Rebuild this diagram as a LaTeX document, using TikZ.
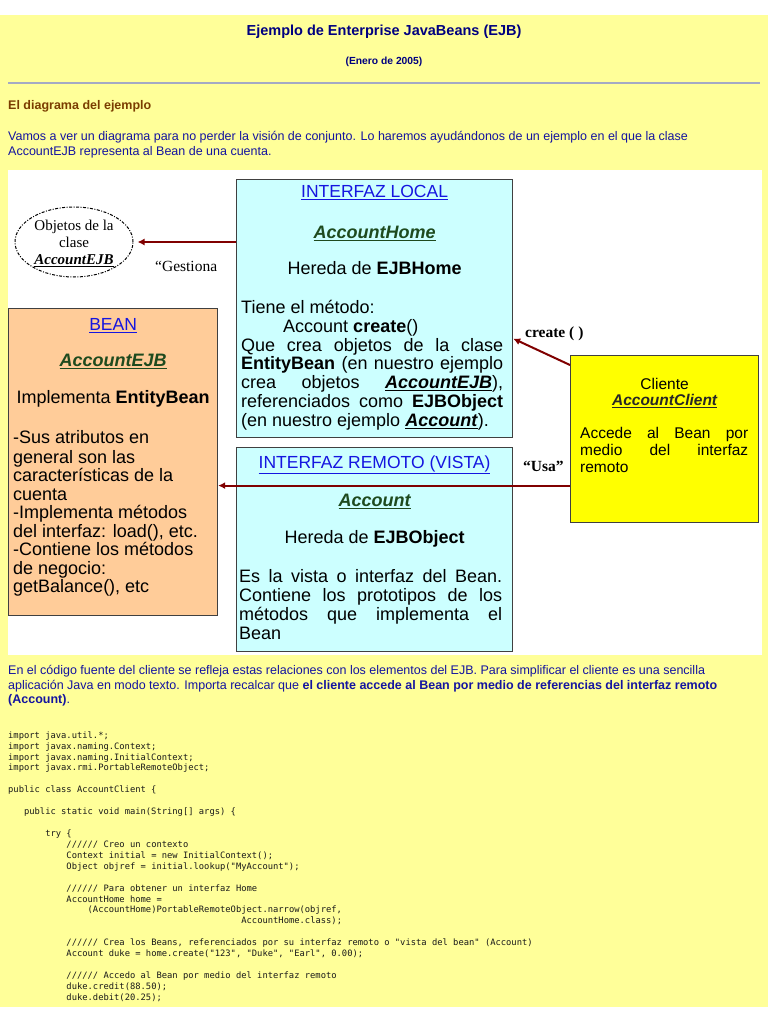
\documentclass[tikz,border=0pt]{standalone}
\usepackage{fontspec}
\setmainfont{Liberation Sans}
\newfontfamily\tnr{Liberation Serif}
\setmonofont{DejaVu Sans Mono}
\usetikzlibrary{arrows.meta, positioning, shapes.geometric}
\definecolor{pagey}{HTML}{FFFF99}
\definecolor{navyt}{HTML}{000080}
\definecolor{parablue}{HTML}{1414A0}
\definecolor{headbrown}{HTML}{7A3D00}
\definecolor{rulec}{HTML}{A4AAC4}
\definecolor{localcyan}{HTML}{CCFFFF}
\definecolor{beanorange}{HTML}{FFCC99}
\definecolor{cliyellow}{HTML}{FFFF00}
\definecolor{boxgray}{HTML}{404040}
\definecolor{arrowred}{HTML}{800000}
\definecolor{linkblue}{HTML}{1515E0}
\definecolor{namegreen}{HTML}{1E4A1E}
\tikzset{box/.style={rectangle,draw=boxgray,line width=1.2pt,inner sep=0pt,anchor=north west},txt/.style={inner sep=0pt,anchor=base},btitle/.style={txt,text=linkblue,font=\fontsize{17.5}{19}\selectfont},bname/.style={txt,text=namegreen,font=\fontsize{18}{19}\selectfont\bfseries\itshape},bplain/.style={txt,font=\fontsize{18}{19}\selectfont},bbody/.style={inner sep=0pt,anchor=north west,font=\fontsize{18}{18.8}\selectfont},lbl/.style={txt,anchor=base west,font=\tnr\fontsize{15.5}{17}\selectfont},ptext/.style={inner sep=0pt,anchor=north west,text=parablue,align=left,font=\fontsize{12.5}{14.5}\selectfont},line/.style={draw=arrowred,line width=2pt,-{Latex[length=7pt,width=7pt]}}}

\begin{document}
\begin{tikzpicture}[x=1pt,y=-1pt]
\useasboundingbox (0,0) rectangle (768,1024);
\fill[pagey] (0,15) rectangle (768,1007);
\fill[white] (8,170) rectangle (762,655);
\draw[rulec,line width=1.5pt] (8,83) -- (760,83);

\node[txt,text=navyt,font=\fontsize{14.5}{16}\selectfont\bfseries] (title) at (384,36) {Ejemplo de Enterprise JavaBeans (EJB)};
\node[txt,text=navyt,font=\fontsize{10.3}{12}\selectfont\bfseries] (date) at (384,64.6) {(Enero de 2005)};
\node[txt,anchor=base west,text=headbrown,font=\fontsize{12.5}{14}\selectfont\bfseries] (head) at (8,109.4) {El diagrama del ejemplo};
\node[ptext] (intro) at (8,130.25) {\strut Vamos a ver un diagrama para no perder la visión de conjunto. Lo haremos ayudándonos de un ejemplo en el que la clase\\AccountEJB representa al Bean de una cuenta.};

\node[box,fill=localcyan,minimum width=276pt,minimum height=258pt] (loc) at (236,179) {};
\node[box,fill=localcyan,minimum width=276pt,minimum height=204pt] (rem) at (236,447) {};
\node[box,fill=beanorange,minimum width=209pt,minimum height=307pt] (bean) at (8,308) {};
\node[box,fill=cliyellow,minimum width=188pt,minimum height=167pt] (cli) at (570,355) {};
\node[ellipse,draw,line width=1pt,dash pattern=on 3pt off 1.5pt on 1pt off 1.5pt,minimum width=118pt,minimum height=70pt,inner sep=0pt,text depth=0pt,align=center,font=\tnr\fontsize{15}{17}\selectfont] (objs) at (74,242) {Objetos de la\\clase\\\underline{\textbf{\textit{AccountEJB}}}};

\node[btitle] (locT) at ([yshift=-18.3pt]loc.north) {\underline{INTERFAZ LOCAL}};
\node[bname] (locN) at ([yshift=-59.3pt]loc.north) {\underline{AccountHome}};
\node[bplain] (locH) at ([yshift=-95.3pt]loc.north) {Hereda de \textbf{EJBHome}};
\node[bbody,text width=262pt,align=justify] (locB) at ([xshift=5pt,yshift=-121.1pt]loc.north west) {\strut Tiene el método:\\
\hspace*{42pt}Account \textbf{create}()\\
Que crea objetos de la clase\linebreak
\textbf{EntityBean} (en nuestro ejemplo\linebreak
crea objetos \underline{\textbf{\textit{AccountEJB}}}),\linebreak
referenciados como \textbf{EJBObject}\linebreak
(en nuestro ejemplo \underline{\textbf{\textit{Account}}}).};

\node[btitle] (remT) at ([yshift=-21.3pt]rem.north) {\underline{INTERFAZ REMOTO (VISTA)}};
\node[bname] (remN) at ([yshift=-59.3pt]rem.north) {\underline{Account}};
\node[bplain] (remH) at ([yshift=-96.3pt]rem.north) {Hereda de \textbf{EJBObject}};
\node[bbody,text width=263pt,align=justify,font=\fontsize{18}{19}\selectfont] (remB) at ([xshift=3pt,yshift=-122pt]rem.north west) {\strut Es la vista o interfaz del Bean.\linebreak
Contiene los prototipos de los\linebreak
métodos que implementa el\linebreak
Bean};

\node[btitle] (beanT) at ([yshift=-22.3pt]bean.north) {\underline{BEAN}};
\node[bname] (beanN) at ([yshift=-58.3pt]bean.north) {\underline{AccountEJB}};
\node[bplain] (beanH) at ([yshift=-95.3pt]bean.north) {Implementa \textbf{EntityBean}};
\node[bbody,align=left,font=\fontsize{18}{18.5}\selectfont] (beanB) at ([xshift=5pt,yshift=-122.4pt]bean.north west) {\strut -Sus atributos en\\
general son las\\
características de la\\
cuenta\\
-Implementa métodos\\
del interfaz: load(), etc.\\
-Contiene los métodos\\
de negocio:\\
getBalance(), etc};

\node[txt,font=\fontsize{15.5}{16}\selectfont] (cliT) at ([yshift=-34.4pt]cli.north) {Cliente};
\node[txt,text=black!85,font=\fontsize{15.5}{16}\selectfont\bfseries\itshape] (cliN) at ([yshift=-50.4pt]cli.north) {\underline{AccountClient}};
\node[bbody,text width=168pt,align=justify,font=\fontsize{15.5}{17}\selectfont] (cliB) at ([xshift=10pt,yshift=-71.5pt]cli.north west) {\strut Accede al Bean por\linebreak
medio del interfaz\linebreak
remoto};

\coordinate (usaS) at ([yshift=-46.5pt]cli.west);
\draw[line] (loc.west |- objs.east) -- ([xshift=4pt]objs.east);
\draw[line] ([yshift=-10pt]cli.north west) -- ([yshift=-30pt]loc.east);
\draw[line] (usaS) -- (usaS -| bean.east);
\node[lbl] (gest) at (155,271) {“Gestiona};
\node[lbl,font=\tnr\fontsize{15.5}{17}\selectfont\bfseries] (crea) at (525,337) {create ( )};
\node[lbl,font=\tnr\fontsize{15.5}{17}\selectfont\bfseries] (usa) at (523,471) {“Usa”};

\node[ptext] (outro) at (8,664.25) {\strut En el código fuente del cliente se refleja estas relaciones con los elementos del EJB. Para simplificar el cliente es una sencilla\\aplicación Java en modo texto. Importa recalcar que \textbf{el cliente accede al Bean por medio de referencias del interfaz remoto}\\\textbf{(Account)}.};

\node[inner sep=0pt,anchor=north west,align=left,text=black!90,font=\ttfamily\fontsize{8.8}{10.92}\selectfont] (src) at (8,730.36) {\strut import java.util.*;\\
import javax.naming.Context;\\
import javax.naming.InitialContext;\\
import javax.rmi.PortableRemoteObject;\\
~\\
public class AccountClient \{\\
~\\
\hspace*{15.9pt}public static void main(String[] args) \{\\
~\\
\hspace*{37.1pt}try \{\\
\hspace*{58.3pt}////// Creo un contexto\\
\hspace*{58.3pt}Context initial = new InitialContext();\\
\hspace*{58.3pt}Object objref = initial.lookup("MyAccount");\\
~\\
\hspace*{58.3pt}////// Para obtener un interfaz Home\\
\hspace*{58.3pt}AccountHome home =\\
\hspace*{79.5pt}(AccountHome)PortableRemoteObject.narrow(objref,\\
\hspace*{233.2pt}AccountHome.class);\\
~\\
\hspace*{58.3pt}////// Crea los Beans, referenciados por su interfaz remoto o "vista del bean" (Account)\\
\hspace*{58.3pt}Account duke = home.create("123", "Duke", "Earl", 0.00);\\
~\\
\hspace*{58.3pt}////// Accedo al Bean por medio del interfaz remoto\\
\hspace*{58.3pt}duke.credit(88.50);\\
\hspace*{58.3pt}duke.debit(20.25);};
\end{tikzpicture}
\end{document}
